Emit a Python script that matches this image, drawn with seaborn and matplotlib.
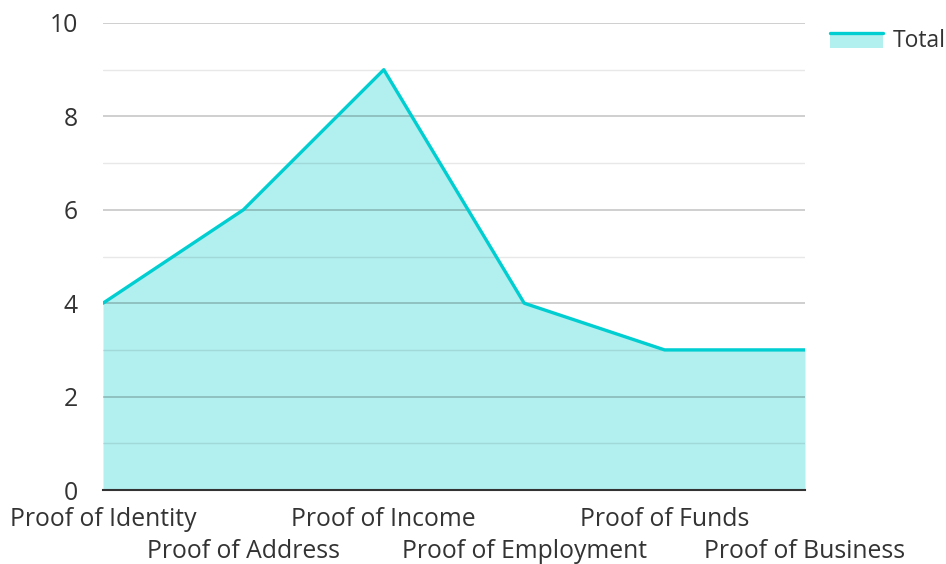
import matplotlib
matplotlib.use("Agg")
import matplotlib.pyplot as plt
import seaborn as sns
import pandas as pd
from matplotlib.legend_handler import HandlerBase
from matplotlib.patches import Rectangle
from matplotlib.lines import Line2D

# data
categories = ["Proof of Identity", "Proof of Address", "Proof of Income",
              "Proof of Employment", "Proof of Funds", "Proof of Business"]
totals = [4, 6, 9, 4, 3, 3]

line_color = "#00CED1"
fill_color = "#B2EFEF"
text_color = "#333333"

sns.set_style("white")
plt.rcParams['font.family'] = ['Open Sans', 'DejaVu Sans']

df = pd.DataFrame({"pos": range(len(categories)), "Total": totals})

fig = plt.figure(figsize=(9.46, 5.64), dpi=100)
ax = fig.add_axes([103 / 946, 1 - 490 / 564, (805 - 103) / 946, (490 - 23) / 564])

ax.fill_between(df["pos"], df["Total"], 0, color=fill_color, linewidth=0, zorder=1)
sns.lineplot(data=df, x="pos", y="Total", color=line_color, linewidth=2.4, ax=ax, zorder=3)

ax.set_xlim(0, len(categories) - 1)
ax.set_ylim(0, 10)
ax.set_yticks([0, 2, 4, 6, 8, 10])
ax.set_yticks([1, 3, 5, 7, 9], minor=True)
ax.set_axisbelow(False)
ax.grid(which="major", axis="y", color="black", alpha=0.22, linewidth=1.2, zorder=2)
ax.grid(which="minor", axis="y", color="black", alpha=0.09, linewidth=1.0, zorder=2)
ax.grid(axis="x", visible=False)

for s in ["top", "right", "left"]:
    ax.spines[s].set_visible(False)
ax.spines["bottom"].set_color(text_color)
ax.spines["bottom"].set_linewidth(1.5)
ax.spines["bottom"].set_zorder(4)

ax.set_xticks(df["pos"])
ax.set_xticklabels(categories)
ax.tick_params(axis="both", which="both", length=0, labelsize=17.8, labelcolor=text_color)
ax.tick_params(axis="y", pad=18)
for i, t in enumerate(ax.xaxis.get_major_ticks()):
    t.set_pad(12.5 if i % 2 == 0 else 35.5)
ax.set_xlabel("")
ax.set_ylabel("")


class AreaHandler(HandlerBase):
    def create_artists(self, legend, orig_handle, xdescent, ydescent,
                       width, height, fontsize, trans):
        rect = Rectangle((-xdescent, -ydescent), width, height * 0.8,
                         facecolor=fill_color, edgecolor="none", transform=trans)
        ln = Line2D([-xdescent, -xdescent + width], [-ydescent + height * 0.85] * 2,
                    color=line_color, linewidth=2.4, transform=trans)
        return [rect, ln]


handle = Rectangle((0, 0), 1, 1)
leg = fig.legend([handle], ["Total"], handler_map={Rectangle: AreaHandler()},
                 loc="upper left", bbox_to_anchor=(830 / 946, 1 - 29 / 564),
                 frameon=False, fontsize=16.5, handlelength=2.3, handleheight=0.8,
                 handletextpad=0.45, borderaxespad=0, borderpad=0)
for txt in leg.get_texts():
    txt.set_color(text_color)

fig.savefig("out.png", dpi=100)
